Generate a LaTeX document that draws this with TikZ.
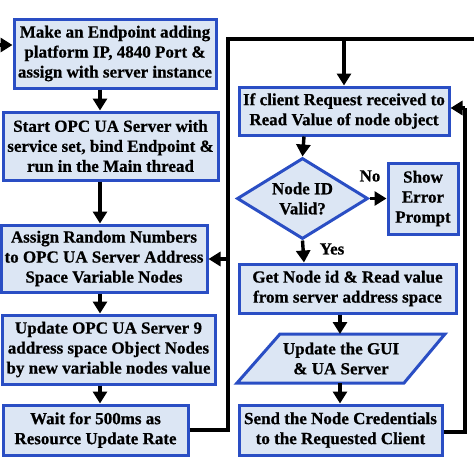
\documentclass[tikz,border=0pt]{standalone}
\usepackage{fontspec}
\setmainfont{Liberation Serif}[BoldFeatures={FakeBold=0.6}]
\usetikzlibrary{arrows.meta,shapes.geometric,calc}
\definecolor{boxfill}{HTML}{DCE6F4}
\definecolor{boxline}{HTML}{2A4EC4}
\begin{document}
\begin{tikzpicture}[x=1pt,y=-1pt,
  every node/.style={font=\fontsize{17}{20}\selectfont\bfseries},
  proc/.style={draw=boxline,line width=3pt,fill=boxfill,align=center,inner sep=0pt},
  dec/.style={draw=boxline,line width=3pt,fill=boxfill,align=center,diamond,inner sep=0pt},
  arr/.style={line width=3.4pt,-{Triangle[length=12pt,width=14pt]}},
  ln/.style={line width=3.4pt},
  lbl/.style={inner sep=0pt}]
\useasboundingbox (0,0) rectangle (474,474);
% left column
\node[proc,minimum width=202pt,minimum height=69pt] (B1) at (115,53.5) {Make an Endpoint adding\\platform IP, 4840 Port \&\\assign with server instance};
\node[proc,minimum width=215pt,minimum height=68pt] (B2) at (110.5,146) {Start OPC UA Server with\\service set, bind Endpoint \&\\run in the Main thread};
\node[proc,minimum width=206pt,minimum height=67pt] (B3) at (104,258.5) {Assign Random Numbers\\to OPC UA Server Address\\Space Variable Nodes};
\node[proc,minimum width=213pt,minimum height=69pt] (B4) at (108.5,349.5) {Update OPC UA Server 9\\address space Object Nodes\\by new variable nodes value};
\node[proc,minimum width=185pt,minimum height=50pt] (B5) at (95.5,430) {Wait for 500ms as\\Resource Update Rate};
% right column
\node[proc,minimum width=210pt,minimum height=48pt] (B6) at (344,111) {If client Request received to\\Read Value of node object};
\node[dec,minimum width=131pt,minimum height=81pt] (D) at (302.5,198.5) {};
\node[lbl,align=center] at (D.center) {Node ID\\Valid?};
\node[proc,minimum width=70pt,minimum height=71pt] (E) at (423,198.5) {Show\\Error\\Prompt};
\node[proc,minimum width=217pt,minimum height=49pt] (B7) at (347.5,288.5) {Get Node id \& Read value\\from server address space};
\draw[draw=boxline,line width=3pt,fill=boxfill] (280,334) -- (445,334) -- (404,383) -- (237,383) -- cycle;
\node[lbl,align=center] (P) at (341,358.5) {Update the GUI\\\& UA Server};
\coordinate (Ptop) at (340,334);
\coordinate (Pbot) at (340,383);
\node[proc,minimum width=203pt,minimum height=50pt] (B9) at (340.5,430) {Send the Node Credentials\\to the Requested Client};
% labels
\node[lbl] (no) at (370,176) {No};
\node[lbl] (yes) at (332,249) {Yes};
% helper coordinates
\coordinate (ax) at (100,0);
\coordinate (bx) at (304,0);
\coordinate (cx) at (340,0);
\coordinate (L1) at (228,430);
\coordinate (L2) at (228,259);
\coordinate (L3) at (228,39);
\coordinate (L4) at (474,39);
\coordinate (L5) at (344,39);
\coordinate (R1) at (465,432);
\coordinate (R2) at (465,108);
\coordinate (In0) at (0,45);
% left arrows
\draw[arr] (B1.south -| ax) -- (B2.north -| ax);
\draw[arr] (B2.south -| ax) -- (B3.north -| ax);
\draw[arr] (B3.south -| ax) -- (B4.north -| ax);
\draw[arr] (B4.south -| ax) -- (B5.north -| ax);
\draw[arr] (In0) -- (In0 -| B1.west);
% loop from B5
\draw[ln] (B5.east |- L1) -- (L1) -- (L3) -- (L4);
\draw[arr] (L2) -- (L2 -| B3.east);
\draw[arr] (L5) -- (B6.north);
% right arrows
\draw[arr] (B6.south -| bx) -- (D.north);
\draw[arr] (D.east) -- (E.west |- D.east);
\draw[arr] (D.south) -- (B7.north -| bx);
\draw[arr] (B7.south -| cx) -- (Ptop);
\draw[arr] (Pbot) -- (B9.north -| cx);
\draw[ln] (B9.east |- R1) -- (R1) -- (R2);
\draw[arr] (R2) -- (R2 -| B6.east);
\end{tikzpicture}
\end{document}
